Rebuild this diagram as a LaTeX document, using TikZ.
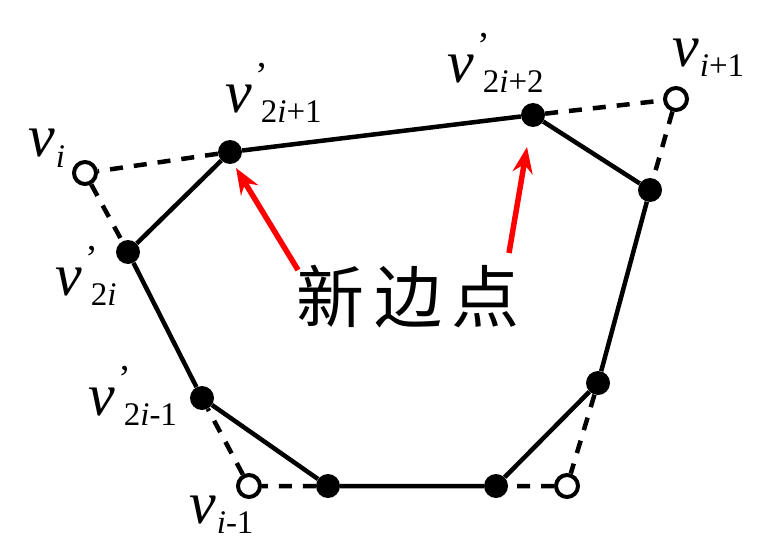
\documentclass[tikz,border=0pt]{standalone}
\usepackage{fontspec}
\setmainfont{Liberation Serif}
\newfontfamily\cjk{Noto Sans CJK SC}
\usetikzlibrary{arrows.meta}

\newlength{\du}
\setlength{\du}{1pt}

% labels: v_i and v'_k
\newcommand{\vsub}[1]{\textit{v}\kern1pt\raisebox{-10pt}{\fontsize{33}{33}\selectfont #1}}
\newcommand{\vnew}[1]{\textit{v}\kern4pt\rlap{\raisebox{24pt}{\fontsize{38}{38}\selectfont ’}}\kern5pt\raisebox{-10pt}{\fontsize{33}{33}\selectfont #1}}

\tikzset{
  oldpt/.style={circle, draw, fill=white, line width=4\du, minimum size=22\du, inner sep=0pt},
  newpt/.style={circle, fill, minimum size=24\du, inner sep=0pt},
  edge/.style={line width=4.5\du},
  cut/.style={line width=4.5\du, dash pattern=on 13\du off 11\du},
  redarrow/.style={line width=5.5\du, red, -{Stealth[length=26pt,width=20pt]}},
  lbl/.style={anchor=base west, inner sep=0pt, font=\fontsize{60}{60}\selectfont},
}

\begin{document}
\begin{tikzpicture}[x=1\du,y=-1\du]
\useasboundingbox (0,0) rectangle (773,559);

% original vertices
\node[oldpt] (vi)  at (85,173) {};
\node[oldpt] (vip) at (676,99) {};
\node[oldpt] (vk)  at (567,486) {};
\node[oldpt] (vim) at (249,486) {};

% new edge points
\node[newpt] (p1) at (230,152) {};
\node[newpt] (p2) at (533,115) {};
\node[newpt] (p3) at (650,190) {};
\node[newpt] (p4) at (598,383) {};
\node[newpt] (p5) at (496,486) {};
\node[newpt] (p6) at (328,486) {};
\node[newpt] (p7) at (202,398) {};
\node[newpt] (p8) at (128,252) {};

% cut corners
\draw[cut] (p1) -- (vi) -- (p8);
\draw[cut] (p2) -- (vip) -- (p3);
\draw[cut] (p4) -- (vk) -- (p5);
\draw[cut] (p6) -- (vim) -- (p7);

% new polygon
\draw[edge] (p1) -- (p2) -- (p3) -- (p4) -- (p5) -- (p6) -- (p7) -- (p8) -- (p1);

% labels
\node[lbl] (lvi)  at (28,157)  {\vsub{\textit{i}}};
\node[lbl] (lvip) at (672,67)  {\vsub{\textit{i}+1}};
\node[lbl] (lvim) at (189,523) {\vsub{\textit{i}-1}};
\node[lbl] (lp1)  at (225,113) {\vnew{2\textit{i}+1}};
\node[lbl] (lp2)  at (447,83)  {\vnew{2\textit{i}+2}};
\node[lbl] (lp8)  at (55,295)  {\vnew{2\textit{i}}};
\node[lbl] (lp7)  at (88,415)  {\vnew{2\textit{i}-1}};

% text and arrows
\node[font=\cjk\fontsize{68}{68}\selectfont] (xbd) at (408,297) {新\hspace{10\du}边\hspace{10\du}点};
\coordinate (a1) at (298,270);
\coordinate (a2) at (509,253);
\coordinate (t1) at (236,168);
\coordinate (t2) at (527,147);
\draw[redarrow] (a1) -- (t1);
\draw[redarrow] (a2) -- (t2);
\end{tikzpicture}
\end{document}
